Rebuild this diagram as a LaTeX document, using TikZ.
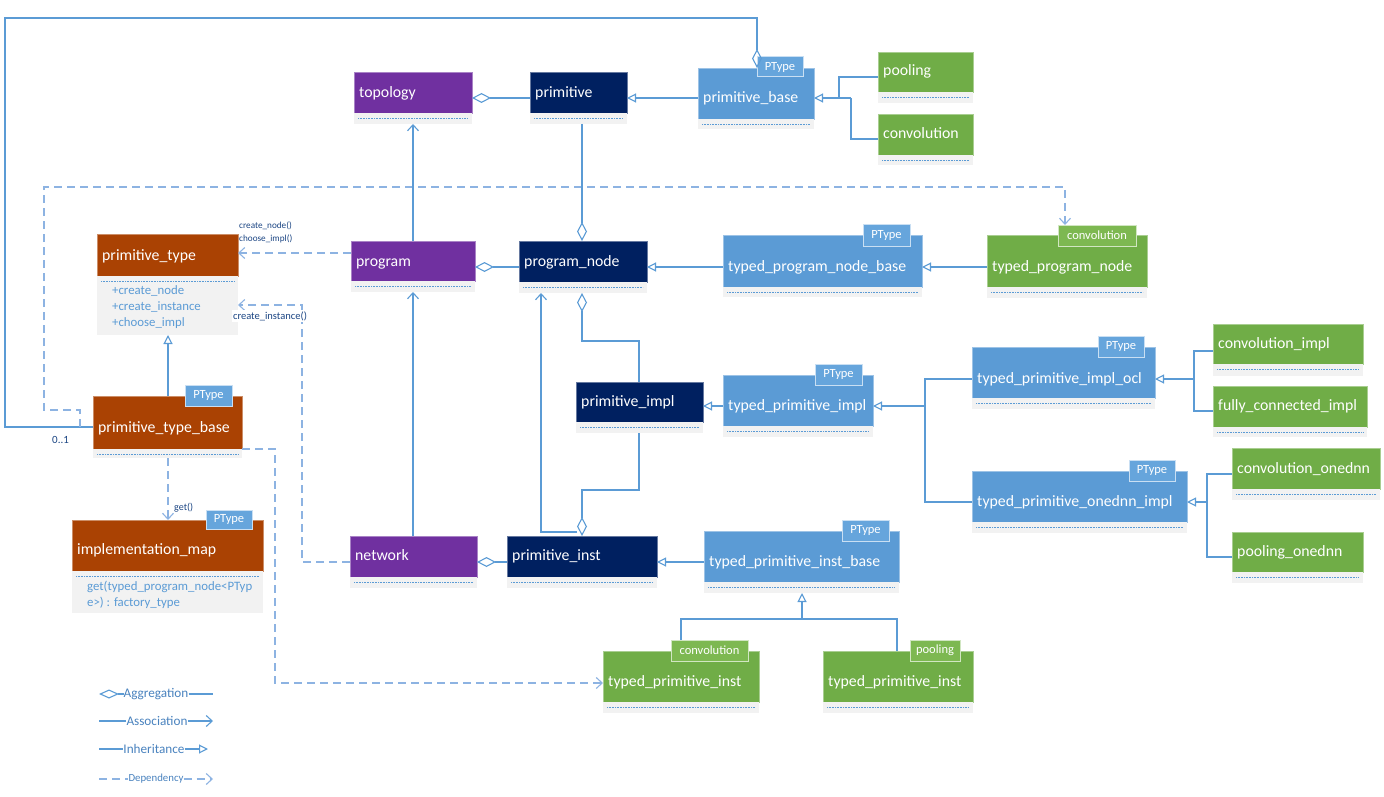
\documentclass[tikz,border=0pt]{standalone}
\usepackage{fontspec}
\setmainfont{Carlito}
\usetikzlibrary{arrows.meta}
\definecolor{cpurple}{HTML}{7030A0}
\definecolor{cnavy}{HTML}{002060}
\definecolor{cblue}{HTML}{5B9BD5}
\definecolor{cgreen}{HTML}{70AD47}
\definecolor{cbrown}{HTML}{AA4203}
\definecolor{cstrip}{HTML}{F2F2F2}
\definecolor{cline}{HTML}{5B9BD5}
\definecolor{cdash}{HTML}{8DB3E2}
\definecolor{ctagb}{HTML}{66A5DC}
\definecolor{ctagg}{HTML}{7DB851}
\definecolor{cmem}{HTML}{5B9BD5}
\tikzset{
  hdr/.style={inner sep=0pt, outer sep=0pt, line width=0.6pt},
  strip/.style={inner sep=0pt, outer sep=0pt, fill=cstrip},
  dotl/.style={draw=cblue, line width=0.6pt, dash pattern=on 0.8pt off 0.8pt},
  htxt/.style={anchor=mid west, inner sep=0pt, text=white, font=\fontsize{15.8}{18}\selectfont},
  tagbox/.style={inner sep=0pt, outer sep=0pt, text=white, line width=1pt, font=\fontsize{12.5}{14}\selectfont},
  memtxt/.style={anchor=mid west, inner sep=0pt, text=cmem, font=\fontsize{12.8}{15}\selectfont},
  lbl/.style={anchor=mid west, inner sep=0pt, text=cnavy!70!cblue},
  conn/.style={draw=cline, line width=1.1pt},
  inh/.style={conn, -{Triangle[open, length=9pt, width=9pt, fill=white]}},
  aggr/.style={conn, -{Diamond[open, length=19pt, width=10pt]}},
  asso/.style={conn, -{Straight Barb[length=6pt, width=11pt]}},
  dep/.style={draw=cdash, line width=1.3pt, dash pattern=on 8pt off 5pt, -{Straight Barb[length=6pt, width=11pt, line width=1.1pt]}},
  depl/.style={draw=cdash, line width=1.3pt, dash pattern=on 8pt off 5pt},
}
\newcommand{\umlcls}[9]{%
  \node[hdr, fill=#7, draw=#7!60!white, minimum width={(#4-#2)*1pt}, minimum height={(#5-#3)*1pt}] (#1) at ({(#2+#4)/2},{(#3+#5)/2}) {};
  \node[strip, minimum width={(#4-#2)*1pt}, minimum height={(#6-#5)*1pt}] (#1-s) at ({(#2+#4)/2},{(#5+#6)/2}) {};
  \draw[dotl] ({#2+4},{#5+5}) -- ({#4-4},{#5+5});
  \node[htxt] (#1-t) at ({#2+5},{#9+2}) {#8};
}
\newcommand{\umltag}[7]{%
  \node[tagbox, fill=#6, draw=#6!35!white, minimum width={(#4-#2)*1pt}, minimum height={(#5-#3)*1pt}] (#1) at ({(#2+#4)/2},{(#3+#5)/2}) {#7};
}
\begin{document}
\begin{tikzpicture}[x=1pt, y=-1pt]
\useasboundingbox (0,0) rectangle (1384,797);
% classes
\umlcls{topology}{354}{72}{472}{113}{124}{cpurple}{topology}{93}
\umlcls{primitive}{530}{72}{627}{113}{124}{cnavy}{primitive}{93}
\umlcls{pbase}{698}{68}{814}{119}{129}{cblue}{primitive\_base}{98}
\umltag{pbase-tag}{757}{57}{803}{77}{ctagb}{PType}
\umlcls{pooling}{878}{52}{973}{92}{103}{cgreen}{pooling}{71}
\umlcls{convolution}{878}{114}{973}{155}{165}{cgreen}{convolution}{134}
\umlcls{ptype}{97}{234}{238}{276}{335}{cbrown}{primitive\_type}{256}
\umlcls{program}{351}{241}{475}{281}{292}{cpurple}{program}{262}
\umlcls{pnode}{519}{241}{647}{282}{293}{cnavy}{program\_node}{262}
\umlcls{tpnb}{723}{235}{922}{287}{297}{cblue}{typed\_program\_node\_base}{267}
\umltag{tpnb-tag}{863}{224}{910}{246}{ctagb}{PType}
\umlcls{tpn}{987}{235}{1147}{287}{298}{cgreen}{typed\_program\_node}{267}
\umltag{tpn-tag}{1058}{225}{1136}{246}{ctagg}{convolution}
\umlcls{ptb}{93}{396}{242}{449}{458}{cbrown}{primitive\_type\_base}{428}
\umltag{ptb-tag}{185}{385}{232}{406}{ctagb}{PType}
\umlcls{imap}{72}{520}{263}{571}{613}{cbrown}{implementation\_map}{550}
\umltag{imap-tag}{206}{510}{252}{529}{ctagb}{PType}
\umlcls{pimpl}{576}{382}{703}{422}{433}{cnavy}{primitive\_impl}{402}
\umlcls{tpimpl}{723}{375}{873}{426}{437}{cblue}{typed\_primitive\_impl}{406}
\umltag{tpimpl-tag}{815}{364}{862}{385}{ctagb}{PType}
\umlcls{ocl}{972}{347}{1155}{398}{409}{cblue}{typed\_primitive\_impl\_ocl}{379}
\umltag{ocl-tag}{1098}{336}{1144}{357}{ctagb}{PType}
\umlcls{onednn}{972}{471}{1187}{522}{533}{cblue}{typed\_primitive\_onednn\_impl}{502}
\umltag{onednn-tag}{1129}{460}{1175}{481}{ctagb}{PType}
\umlcls{cimpl}{1213}{324}{1363}{364}{376}{cgreen}{convolution\_impl}{344}
\umlcls{fcimpl}{1213}{386}{1367}{427}{437}{cgreen}{fully\_connected\_impl}{406}
\umlcls{conednn}{1232}{448}{1380}{489}{500}{cgreen}{convolution\_onednn}{469}
\umlcls{ponednn}{1232}{532}{1363}{572}{583}{cgreen}{pooling\_onednn}{552}
\umlcls{network}{350}{536}{477}{577}{588}{cpurple}{network}{556}
\umlcls{pinst}{507}{536}{657}{577}{588}{cnavy}{primitive\_inst}{556}
\umlcls{tpib}{704}{531}{899}{582}{593}{cblue}{typed\_primitive\_inst\_base}{562}
\umltag{tpib-tag}{842}{520}{889}{541}{ctagb}{PType}
\umlcls{tpic}{603}{651}{759}{702}{713}{cgreen}{typed\_primitive\_inst}{682}
\umltag{tpic-tag}{671}{640}{748}{661}{ctagg}{convolution}
\umlcls{tpip}{823}{651}{973}{702}{713}{cgreen}{typed\_primitive\_inst}{682}
\umltag{tpip-tag}{910}{640}{960}{661}{ctagg}{pooling}
% members
\node[memtxt] (m1) at (112,292) {+create\_node};
\node[memtxt] (m2) at (112,308) {+create\_instance};
\node[memtxt] (m3) at (112,324) {+choose\_impl};
\node[memtxt] (m4) at (87,588) {get(typed\_program\_node<PTyp};
\node[memtxt] (m5) at (87,604) {e>) : factory\_type};
% connectors top row
\draw[aggr] (primitive.west |- 0,98) -- (topology.east |- 0,98);
\draw[inh] (pbase.west |- 0,98) -- (primitive.east |- 0,98);
\coordinate (jpb) at (851,98);
\draw[conn] (pooling.west |- 0,77) -| (839,98);
\draw[conn] (convolution.west |- 0,139) -| (jpb);
\draw[inh] (jpb) -- (pbase.east |- 0,98);
% loop from primitive_type_base to primitive_base
\draw[aggr] (ptb.west |- 0,427) -- (5,427) -- (5,18) -- (757,18) -- (757,0 |- pbase.north);
\node[lbl, font=\fontsize{11}{13}\selectfont] (card) at (52,441) {0..1};
% dependency primitive_type_base -> typed_program_node
\draw[dep] (80,427) -- (80,410) -- (44,410) -- (44,187) -- (1065,187) -- (1065,0 |- tpn-tag.north);
% program -> primitive_type
\draw[dep] (program.west |- 0,253) -- (ptype.east |- 0,253);
\node[lbl, font=\fontsize{9.2}{11}\selectfont] (l1) at (239,226) {create\_node()};
\node[lbl, font=\fontsize{9.2}{11}\selectfont] (l2) at (239,239) {choose\_impl()};
% network -> primitive_type
\draw[dep] (network.west |- 0,562) -- (302,562) -- (302,305) -- (ptype-s.east |- 0,305);
\node[lbl, fill=white, inner sep=1pt, anchor=center, font=\fontsize{10.5}{12}\selectfont] (l3) at (270,316) {create\_instance()};
% primitive_type_base -> primitive_type
\draw[inh] (168,0 |- ptb.north) -- (168,0 |- ptype-s.south);
% primitive_type_base -> implementation_map
\draw[dep] (168,0 |- ptb-s.south) -- (168,0 |- imap.north);
\node[lbl, font=\fontsize{10}{12}\selectfont] (l4) at (174,508) {get()};
% primitive_type_base -> typed_primitive_inst
\draw[dep] (ptb.east |- 0,449) -- (275,449) -- (275,683) -- (tpic.west |- 0,683);
% program associations / aggregations
\draw[asso] (413,0 |- program.north) -- (413,0 |- topology-s.south);
\draw[asso] (413,0 |- network.north) -- (413,0 |- program-s.south);
\draw[aggr] (pnode.west |- 0,267) -- (program.east |- 0,267);
\draw[aggr] (582,0 |- primitive-s.south) -- (582,0 |- pnode.north);
\draw[inh] (tpnb.west |- 0,267) -- (pnode.east |- 0,267);
\draw[inh] (tpn.west |- 0,267) -- (tpnb.east |- 0,267);
% primitive_impl
\draw[aggr] (639,0 |- pimpl.north) -- (639,341) -- (582,341) -- (582,0 |- pnode-s.south);
\draw[aggr] (639,0 |- pimpl-s.south) -- (639,490) -- (582,490) -- (582,0 |- pinst.north);
\draw[asso] (577,532) -- (541,532) -- (541,0 |- pnode-s.south);
\draw[inh] (tpimpl.west |- 0,406) -- (pimpl.east |- 0,406);
\coordinate (jti) at (925,406);
\draw[conn] (ocl.west |- 0,379) -| (jti);
\draw[conn] (onednn.west |- 0,502) -| (jti);
\draw[inh] (jti) -- (tpimpl.east |- 0,406);
\coordinate (jocl) at (1194,379);
\draw[conn] (cimpl.west |- 0,351) -| (jocl);
\draw[conn] (fcimpl.west |- 0,411) -| (jocl);
\draw[inh] (jocl) -- (ocl.east |- 0,379);
\coordinate (jon) at (1207,502);
\draw[conn] (conednn.west |- 0,474) -| (jon);
\draw[conn] (ponednn.west |- 0,557) -| (jon);
\draw[inh] (jon) -- (onednn.east |- 0,502);
% network / primitive_inst
\draw[aggr] (pinst.west |- 0,562) -- (network.east |- 0,562);
\draw[inh] (tpib.west |- 0,562) -- (pinst.east |- 0,562);
\coordinate (jtpi) at (802,619);
\draw[conn] (681,0 |- tpic-tag.north) -- (681,619) -- (897,619) -- (897,0 |- tpip.north);
\draw[inh] (jtpi) -- (802,0 |- tpib-s.south);
% legend
\tikzset{legt/.style={inner sep=0pt, text=cblue!80!cnavy, font=\fontsize{13.2}{15}\selectfont}}
\node[legt] (lg1) at (156,694) {Aggregation};
\node[legt] (lg2) at (157,721) {Association};
\node[legt] (lg3) at (154,749) {Inheritance};
\node[legt, font=\fontsize{10.8}{12}\selectfont] (lg4) at (156,779) {Dependency};
\draw[conn, -{Diamond[open, length=20pt, width=9pt]}] (lg1.west) -- (99,694);
\draw[conn] (lg1.east) -- (213,694);
\draw[conn] (99,721) -- (lg2.west);
\draw[asso] (lg2.east) -- (213,721);
\draw[conn] (99,749) -- (lg3.west);
\draw[inh] (lg3.east) -- (208,749);
\draw[depl] (99,779) -- (lg4.west);
\draw[dep] (lg4.east) -- (213,779);
\end{tikzpicture}
\end{document}
